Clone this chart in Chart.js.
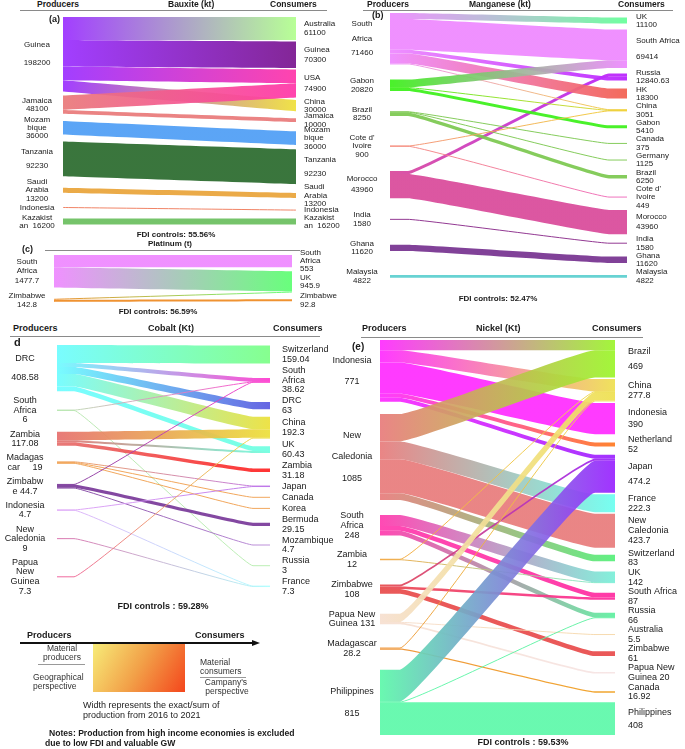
<!DOCTYPE html>
<html>
<head>
<meta charset="utf-8">
<script src="https://cdn.jsdelivr.net/npm/chart.js@4.4.0/dist/chart.umd.min.js"></script>
<style>
  body { margin: 0; width: 685px; height: 749px; position: relative; overflow: hidden; background: #fff;
         font-family: "Liberation Sans", Arial, Helvetica, sans-serif; color: #1a1a1a; }
  canvas { position: absolute; }
  .t { position: absolute; white-space: nowrap; }
  .rule { position: absolute; height: 0; border-top: 1px solid #8a8a8a; }
</style>
</head>
<body>
<script>
// ---------- (a) Bauxite (kt) ----------
const bauxiteProducers = ['Guinea', 'Jamaica', 'Mozambique', 'Tanzania', 'Saudi Arabia', 'Indonesia', 'Kazakistan'];
const bauxiteProducerLabels = ['Guinea\n198200', 'Jamaica\n48100', 'Mozam\nbique\n36000', 'Tanzania\n92230', 'Saudi\nArabia\n13200', 'Indonesia', 'Kazakist\nan  16200'];
const bauxiteConsumers = ['Australia', 'Guinea', 'USA', 'China', 'Jamaica', 'Mozambique', 'Tanzania', 'Saudi Arabia', 'Indonesia', 'Kazakistan'];
const bauxiteConsumerLabels = ['Australia\n61100', 'Guinea\n70300', 'USA\n74900', 'China\n30000', 'Jamaica\n10000', 'Mozam\nbique\n36000', 'Tanzania\n92230', 'Saudi\nArabia\n13200', 'Indonesia', 'Kazakist\nan  16200'];
const bauxiteFlowFrom = ['Guinea', 'Guinea', 'Guinea', 'Guinea', 'Jamaica', 'Jamaica', 'Mozambique', 'Tanzania', 'Saudi Arabia', 'Indonesia', 'Kazakistan'];
const bauxiteFlowTo = ['Australia', 'Guinea', 'USA', 'China', 'USA', 'Jamaica', 'Mozambique', 'Tanzania', 'Saudi Arabia', 'Indonesia', 'Kazakistan'];
const bauxiteFlowValues = [61100, 70300, 36800, 30000, 38100, 10000, 36000, 92230, 13200, 1500, 16200];

// ---------- (c) Platinum (t) ----------
const platinumProducers = ['South Africa', 'Zimbabwe'];
const platinumProducerLabels = ['South\nAfrica\n1477.7', 'Zimbabwe\n142.8'];
const platinumConsumers = ['South Africa', 'UK', 'Zimbabwe'];
const platinumConsumerLabels = ['South\nAfrica\n553', 'UK\n945.9', 'Zimbabwe\n92.8'];
const platinumFlowFrom = ['South Africa', 'South Africa', 'Zimbabwe', 'Zimbabwe'];
const platinumFlowTo = ['South Africa', 'UK', 'UK', 'Zimbabwe'];
const platinumFlowValues = [553, 924.7, 50, 92.8];

// ---------- (b) Manganese (kt) ----------
const manganeseProducers = ['South Africa', 'Gabon', 'Brazil', "Cote d'Ivoire", 'Morocco', 'India', 'Ghana', 'Malaysia'];
const manganeseProducerLabels = ['South\nAfrica\n71460', 'Gabon\n20820', 'Brazil\n8250', "Cote d'\nIvoire\n900", 'Morocco\n43960', 'India\n1580', 'Ghana\n11620', 'Malaysia\n4822'];
const manganeseConsumers = ['UK', 'South Africa', 'Russia', 'HK', 'China', 'Gabon', 'Canada', 'Germany', 'Brazil', "Cote d'Ivoire", 'Morocco', 'India', 'Ghana', 'Malaysia'];
const manganeseConsumerLabels = ['UK\n11100', 'South Africa\n69414', 'Russia\n12840.63', 'HK\n18300', 'China\n3051', 'Gabon\n5410', 'Canada\n375', 'Germany\n1125', 'Brazil\n6250', "Cote d'\nIvoire\n449", 'Morocco\n43960', 'India\n1580', 'Ghana\n11620', 'Malaysia\n4822'];
const manganeseFlowFrom = ['South Africa', 'South Africa', 'Morocco', 'South Africa', 'South Africa', 'South Africa', 'Gabon', 'Gabon', 'Gabon',
  'Brazil', 'Brazil', 'Brazil', "Cote d'Ivoire", "Cote d'Ivoire", 'Morocco', 'India', 'Ghana', 'Malaysia'];
const manganeseFlowTo = ['UK', 'South Africa', 'Russia', 'Russia', 'HK', 'China', 'South Africa', 'China', 'Gabon',
  'Canada', 'Germany', 'Brazil', 'China', "Cote d'Ivoire", 'Morocco', 'India', 'Ghana', 'Malaysia'];
const manganeseFlowValues = [11100, 55404, 5840, 7000, 18300, 1200, 14010, 1400, 5410,
  375, 1125, 6250, 451, 449, 43960, 1580, 11620, 4822];

// ---------- (d) Cobalt (Kt) ----------
const cobaltProducers = ['DRC', 'South Africa', 'Zambia', 'Madagascar', 'Zimbabwe', 'Indonesia', 'New Caledonia', 'Papua New Guinea'];
const cobaltProducerLabels = ['DRC\n408.58', 'South\nAfrica\n6', 'Zambia\n117.08', 'Madagas\ncar     19', 'Zimbabw\ne 44.7', 'Indonesia\n4.7', 'New\nCaledonia\n9', 'Papua\nNew\nGuinea\n7.3'];
const cobaltConsumers = ['Switzerland', 'South Africa', 'DRC', 'China', 'UK', 'Zambia', 'Japan', 'Canada', 'Korea', 'Bermuda', 'Mozambique', 'Russia', 'France'];
const cobaltConsumerLabels = ['Switzerland\n159.04', 'South\nAfrica\n38.62', 'DRC\n63', 'China\n192.3', 'UK\n60.43', 'Zambia\n31.18', 'Japan', 'Canada', 'Korea', 'Bermuda\n29.15', 'Mozambique\n4.7', 'Russia\n3', 'France\n7.3'];
const cobaltFlowFrom = ['DRC', 'DRC', 'DRC', 'DRC', 'DRC', 'South Africa', 'South Africa', 'Zambia', 'Zambia', 'Zambia',
  'Madagascar', 'Madagascar', 'Madagascar', 'Zimbabwe', 'Zimbabwe', 'Zimbabwe', 'Indonesia', 'Indonesia', 'New Caledonia', 'Papua New Guinea'];
const cobaltFlowTo = ['Switzerland', 'South Africa', 'DRC', 'China', 'UK', 'South Africa', 'Russia', 'China', 'UK', 'Zambia',
  'Japan', 'Canada', 'Korea', 'South Africa', 'Bermuda', 'Mozambique', 'Japan', 'France', 'France', 'China'];
const cobaltFlowValues = [159.04, 34.12, 63, 110.42, 42, 3, 3, 74.58, 18.43, 31.18,
  6, 7, 6, 1.5, 29.15, 4.7, 2.35, 2.35, 4.95, 7.3];

// ---------- (e) Nickel (Kt) ----------
const nickelProducers = ['Indonesia', 'New Caledonia', 'South Africa', 'Zambia', 'Zimbabwe', 'Papua New Guinea', 'Madagascar', 'Philippines'];
const nickelProducerLabels = ['Indonesia\n771', 'New\nCaledonia\n1085', 'South\nAfrica\n248', 'Zambia\n12', 'Zimbabwe\n108', 'Papua New\nGuinea 131', 'Madagascar\n28.2', 'Philippines\n815'];
const nickelConsumers = ['Brazil', 'China', 'Indonesia', 'Netherland', 'Japan', 'France', 'New Caledonia', 'Switzerland', 'UK', 'South Africa',
  'Russia', 'Australia', 'Zimbabwe', 'Papua New Guinea', 'Canada', 'Philippines'];
const nickelConsumerLabels = ['Brazil\n469', 'China\n277.8', 'Indonesia\n390', 'Netherland\n52', 'Japan\n474.2', 'France\n222.3', 'New\nCaledonia\n423.7',
  'Switzerland\n83', 'UK\n142', 'South Africa\n87', 'Russia\n66', 'Australia\n5.5', 'Zimbabwe\n61', 'Papua New\nGuinea 20', 'Canada\n16.92', 'Philippines\n408'];
const nickelFlowFrom = ['Indonesia', 'Indonesia', 'Indonesia', 'Indonesia', 'Indonesia', 'New Caledonia', 'New Caledonia', 'New Caledonia', 'New Caledonia',
  'South Africa', 'South Africa', 'South Africa', 'Zambia', 'Zambia', 'Zimbabwe', 'Zimbabwe', 'Zimbabwe',
  'Papua New Guinea', 'Papua New Guinea', 'Papua New Guinea', 'Madagascar', 'Madagascar', 'Philippines', 'Philippines', 'Philippines'];
const nickelFlowTo = ['Brazil', 'China', 'Indonesia', 'Netherland', 'Japan', 'Brazil', 'France', 'New Caledonia', 'Switzerland',
  'UK', 'South Africa', 'Russia', 'China', 'UK', 'Japan', 'South Africa', 'Zimbabwe',
  'China', 'Australia', 'Papua New Guinea', 'China', 'Canada', 'Japan', 'Russia', 'Philippines'];
const nickelFlowValues = [126.3, 153.22, 390, 52, 49.5, 342.7, 222.3, 423.7, 83,
  137.8, 57.7, 59, 7.8, 4.2, 24.7, 29.3, 61,
  105.5, 5.5, 20, 11.28, 16.92, 400, 7, 408];

// ---------- colours (styles) ----------
const bauxiteProducerColors = ['#9b30ff', '#e97a7a', '#4f9ef5', '#2b6b2e', '#e9a43a', '#ef7a5a', '#6bbf5f'];
const bauxiteConsumerColors = ['#b2ff8e', '#7a168f', '#ff36a8', '#efe03a', '#e97a7a', '#4f9ef5', '#2b6b2e', '#e9a43a', '#ef7a5a', '#6bbf5f'];
const platinumProducerColors = ['#ee88ff', '#ee8a22'];
const platinumConsumerColors = ['#ee88ff', '#5dff72', '#ee8a22'];
const manganeseProducerColors = ['#ee88ff', '#3cf01a', '#7cc850', '#f58a7a', '#d94a9a', '#8a2a8a', '#773390', '#5ccfcf'];
const manganeseConsumerColors = ['#66ff99', '#ee88ff', '#b922ff', '#f2604f', '#f0d030', '#3cf01a', '#7cc850', '#7cc850', '#7cc850',
  '#ee66bb', '#d94a9a', '#8a2a8a', '#773390', '#5ccfcf'];
const cobaltProducerColors = ['#6ffcff', '#b8e6b0', '#e6706e', '#f0a050', '#7a3a9a', '#e0a8f8', '#d86aa8', '#ee5a9a'];
const cobaltConsumerColors = ['#7dff86', '#ff3ccf', '#5a5ae0', '#ece03a', '#70ffe0', '#ff2424', '#bb70e8', '#f0a050', '#f0a050',
  '#7a3a9a', '#b98ad8', '#b8eeb0', '#b0ffff'];
const nickelProducerColors = ['#ff2cff', '#e87c7c', '#ff3cae', '#f3a43a', '#e84c4c', '#f6dfd0', '#ee9030', '#5ef8aa'];
const nickelConsumerColors = ['#9cf52c', '#eee050', '#ff2cff', '#ff7a20', '#9a24ff', '#6cfff0', '#e87c7c', '#55f07a', '#7aefd8',
  '#ff2ca0', '#5ef0a0', '#f6d8a8', '#e84c4c', '#f6e4e4', '#f0a020', '#5ef8aa'];

const FONT = '"Liberation Sans", Arial, Helvetica, sans-serif';

const panels = [
  { producers: bauxiteProducers, producerLabels: bauxiteProducerLabels, producerColors: bauxiteProducerColors,
    consumers: bauxiteConsumers, consumerLabels: bauxiteConsumerLabels, consumerColors: bauxiteConsumerColors,
    flowFrom: bauxiteFlowFrom, flowTo: bauxiteFlowTo, flowValues: bauxiteFlowValues,
    box: { left: 0, top: 12, width: 345, height: 222 }, pad: { left: 63, right: 49, top: 5, bottom: 6 },
    flat: 0, curve: 0, font: 8, lh: 8.2, need: 0.8, gap: 1.5, leftOff: 26, rightOff: 8 },
  { producers: platinumProducers, producerLabels: platinumProducerLabels, producerColors: platinumProducerColors,
    consumers: platinumConsumers, consumerLabels: platinumConsumerLabels, consumerColors: platinumConsumerColors,
    flowFrom: platinumFlowFrom, flowTo: platinumFlowTo, flowValues: platinumFlowValues,
    box: { left: 0, top: 250, width: 345, height: 58 }, pad: { left: 54, right: 53, top: 5, bottom: 4 },
    flat: 0, curve: 0, font: 8, lh: 8.2, need: 0.45, gap: 4, leftOff: 27, rightOff: 8 },
  { producers: manganeseProducers, producerLabels: manganeseProducerLabels, producerColors: manganeseProducerColors,
    consumers: manganeseConsumers, consumerLabels: manganeseConsumerLabels, consumerColors: manganeseConsumerColors,
    flowFrom: manganeseFlowFrom, flowTo: manganeseFlowTo, flowValues: manganeseFlowValues,
    box: { left: 345, top: 10, width: 340, height: 280 }, pad: { left: 45, right: 58, top: 3, bottom: 6 },
    flat: 18, curve: 12, font: 8, lh: 8.4, need: 0.9, gap: 1.5, leftOff: 28, rightOff: 9 },
  { producers: cobaltProducers, producerLabels: cobaltProducerLabels, producerColors: cobaltProducerColors,
    consumers: cobaltConsumers, consumerLabels: cobaltConsumerLabels, consumerColors: cobaltConsumerColors,
    flowFrom: cobaltFlowFrom, flowTo: cobaltFlowTo, flowValues: cobaltFlowValues,
    box: { left: 0, top: 340, width: 345, height: 262 }, pad: { left: 57, right: 75, top: 5, bottom: 6 },
    flat: 17, curve: 10, font: 9, lh: 9.6, need: 1.0, gap: 1.5, leftOff: 32, rightOff: 12 },
  { producers: nickelProducers, producerLabels: nickelProducerLabels, producerColors: nickelProducerColors,
    consumers: nickelConsumers, consumerLabels: nickelConsumerLabels, consumerColors: nickelConsumerColors,
    flowFrom: nickelFlowFrom, flowTo: nickelFlowTo, flowValues: nickelFlowValues,
    box: { left: 322, top: 336, width: 363, height: 404 }, pad: { left: 58, right: 70, top: 4, bottom: 5 },
    flat: 20, curve: 15, font: 9, lh: 9.8, need: 0.9, gap: 1.5, leftOff: 28, rightOff: 13 }
];

// node heights are proportional to value; the px-per-unit factor is solved so both columns fit
function buildLayout(cfg) {
  const H = cfg.box.height - cfg.pad.top - cfg.pad.bottom;
  const pIdx = {}, cIdx = {};
  cfg.producers.forEach((n, i) => pIdx[n] = i);
  cfg.consumers.forEach((n, i) => cIdx[n] = i);
  const flows = cfg.flowValues.map((v, i) => ({ s: pIdx[cfg.flowFrom[i]], t: cIdx[cfg.flowTo[i]], v: v }));
  const lv = cfg.producers.map(() => 0), rv = cfg.consumers.map(() => 0);
  flows.forEach(f => { lv[f.s] += f.v; rv[f.t] += f.v; });
  const needs = labels => labels.map(l => l.split('\n').length * cfg.lh * cfg.need);
  const ln = needs(cfg.producerLabels), rn = needs(cfg.consumerLabels);
  const total = (vals, nd, p) => vals.reduce((s, v, i) => s + Math.max(v * p, nd[i]), 0) + (vals.length - 1) * cfg.gap;
  const fit = p => Math.max(total(lv, ln, p), total(rv, rn, p));
  let lo = 0, hi = 1;
  for (let k = 0; k < 200; k++) {
    const mid = (lo + hi) / 2;
    if (fit(mid) > H) hi = mid; else lo = mid;
  }
  const p = lo || hi;
  const stack = (vals, nd) => {
    const slots = vals.map((v, i) => Math.max(v * p, nd[i]));
    const used = slots.reduce((a, b) => a + b, 0);
    const g = vals.length > 1 ? (H - used) / (vals.length - 1) : 0;
    let y = 0;
    return vals.map((v, i) => {
      const top = y + (slots[i] - v * p) / 2;
      y += slots[i] + g;
      return top / p;
    });
  };
  const lTop = stack(lv, ln), rTop = stack(rv, rn);
  const sOff = lTop.slice(), tOff = rTop.slice();
  flows.forEach(f => {
    f.sy = sOff[f.s]; sOff[f.s] += f.v;
    f.ty = tOff[f.t]; tOff[f.t] += f.v;
  });
  return { yMax: H / p, flows, lv, rv, lTop, rTop };
}

function makeSankeyPlugin(cfg, lay) {
  return {
    id: 'sankeyFlows',
    afterDatasetsDraw(chart) {
      const ctx = chart.ctx, xs = chart.scales.x, ys = chart.scales.y;
      const x0 = xs.getPixelForValue(0), x1 = xs.getPixelForValue(1);
      const xa = x0 + cfg.flat, xb = x1 - cfg.flat, c = cfg.curve;
      ctx.save();
      lay.flows.forEach(fl => {
        const sT = ys.getPixelForValue(fl.sy), sB = ys.getPixelForValue(fl.sy + fl.v);
        const tT = ys.getPixelForValue(fl.ty), tB = ys.getPixelForValue(fl.ty + fl.v);
        const grad = ctx.createLinearGradient(x0, 0, x1, 0);
        grad.addColorStop(0, cfg.producerColors[fl.s]);
        grad.addColorStop(1, cfg.consumerColors[fl.t]);
        ctx.globalAlpha = 0.93;
        if (sB - sT < 1.2) {
          const sm = (sT + sB) / 2, tm = (tT + tB) / 2;
          ctx.beginPath();
          ctx.moveTo(x0, sm); ctx.lineTo(xa, sm);
          ctx.bezierCurveTo(xa + c, sm, xb - c, tm, xb, tm);
          ctx.lineTo(x1, tm);
          ctx.strokeStyle = grad; ctx.lineWidth = 1;
          ctx.stroke();
        } else {
          ctx.beginPath();
          ctx.moveTo(x0, sT); ctx.lineTo(xa, sT);
          ctx.bezierCurveTo(xa + c, sT, xb - c, tT, xb, tT);
          ctx.lineTo(x1, tT); ctx.lineTo(x1, tB); ctx.lineTo(xb, tB);
          ctx.bezierCurveTo(xb - c, tB, xa + c, sB, xa, sB);
          ctx.lineTo(x0, sB);
          ctx.closePath();
          ctx.fillStyle = grad;
          ctx.fill();
        }
      });
      ctx.globalAlpha = 1;
      ctx.font = cfg.font + 'px ' + FONT;
      ctx.fillStyle = '#1a1a1a';
      ctx.textBaseline = 'middle';
      const labels = (texts, tops, vals, x, align) => {
        ctx.textAlign = align;
        texts.forEach((txt, i) => {
          const lines = txt.split('\n');
          const yt = ys.getPixelForValue(tops[i]), yb = ys.getPixelForValue(tops[i] + vals[i]);
          const mid = (yt + yb) / 2;
          const sp = Math.min(Math.max((yb - yt) / (lines.length + 0.5), cfg.lh), cfg.lh * 2.2);
          lines.forEach((l, k) => ctx.fillText(l, x, mid + (k - (lines.length - 1) / 2) * sp));
        });
      };
      labels(cfg.producerLabels, lay.lTop, lay.lv, x0 - cfg.leftOff, 'center');
      labels(cfg.consumerLabels, lay.rTop, lay.rv, x1 + cfg.rightOff, 'left');
      ctx.restore();
    }
  };
}

panels.forEach(cfg => {
  const lay = buildLayout(cfg);
  const cv = document.createElement('canvas');
  cv.width = cfg.box.width; cv.height = cfg.box.height;
  cv.style.left = cfg.box.left + 'px'; cv.style.top = cfg.box.top + 'px';
  cv.style.width = cfg.box.width + 'px'; cv.style.height = cfg.box.height + 'px';
  document.body.appendChild(cv);
  new Chart(cv, {
    type: 'scatter',
    data: { datasets: [] },
    options: {
      responsive: false,
      animation: false,
      layout: { padding: cfg.pad },
      plugins: { legend: { display: false }, tooltip: { enabled: false } },
      scales: {
        x: { type: 'linear', min: 0, max: 1, display: false },
        y: { type: 'linear', min: 0, max: lay.yMax, reverse: true, display: false }
      }
    },
    plugins: [makeSankeyPlugin(cfg, lay)]
  });
});

// ---------- static texts ----------
function addText(str, x, y, size, bold, align, color) {
  const d = document.createElement('div');
  d.className = 't';
  d.textContent = str;
  d.style.fontSize = size + 'px';
  d.style.lineHeight = size + 'px';
  d.style.left = x + 'px';
  d.style.top = (y - size / 2) + 'px';
  if (bold) d.style.fontWeight = 'bold';
  if (align === 'center') d.style.transform = 'translateX(-50%)';
  if (color) d.style.color = color;
  document.body.appendChild(d);
}
function addRule(x0, x1, y, color) {
  const d = document.createElement('div');
  d.className = 'rule';
  d.style.left = x0 + 'px'; d.style.width = (x1 - x0) + 'px'; d.style.top = y + 'px';
  if (color) d.style.borderTopColor = color;
  document.body.appendChild(d);
}

addText('Producers', 37, 4, 8.5, true); addText('Bauxite (kt)', 168, 4, 8.5, true); addText('Consumers', 270, 4, 8.5, true);
addRule(20, 327, 10);
addText('(a)', 49, 19, 9, true);
addText('FDI controls: 55.56%', 176, 235, 8, true, 'center');
addText('Platinum (t)', 170, 244, 8, true, 'center');
addText('(c)', 22, 249, 9, true);
addRule(45, 300, 250);
addText('FDI controls: 56.59%', 158, 312, 8, true, 'center');

addText('Producers', 367, 4, 8.5, true); addText('Manganese (kt)', 469, 4, 8.5, true); addText('Consumers', 618, 4, 8.5, true);
addRule(363, 673, 10);
addText('(b)', 372, 15, 9, true);
addText('FDI controls: 52.47%', 498, 299, 8, true, 'center');

addText('Producers', 13, 328, 9, true); addText('Cobalt (Kt)', 148, 328, 9, true); addText('Consumers', 273, 328, 9, true);
addRule(10, 320, 336);
addText('d', 14, 342, 11, true);
addText('FDI controls : 59.28%', 163, 606, 9, true, 'center');

addText('Producers', 362, 328, 9, true); addText('Nickel (Kt)', 476, 328, 9, true); addText('Consumers', 592, 328, 9, true);
addRule(361, 643, 337);
addText('(e)', 352, 347, 10, true);
addText('FDI controls : 59.53%', 523, 742, 9, true, 'center');

// ---------- explanatory key ----------
const grad = document.createElement('div');
grad.style.cssText = 'position:absolute;left:93px;top:644px;width:92px;height:48px;' +
  'background:linear-gradient(120deg,#f7ec78 0%,#f2a048 50%,#f4461c 100%);';
document.body.appendChild(grad);
const arrow = document.createElement('div');
arrow.style.cssText = 'position:absolute;left:20px;top:642px;width:233px;height:0;border-top:2px solid #111;';
document.body.appendChild(arrow);
const head = document.createElement('div');
head.style.cssText = 'position:absolute;left:252px;top:640px;width:0;height:0;border-top:3.5px solid transparent;' +
  'border-bottom:3.5px solid transparent;border-left:8px solid #111;';
document.body.appendChild(head);
addText('Producers', 27, 635, 9, true); addText('Consumers', 195, 635, 9, true);
addText('Material', 62, 648, 8.5, false, 'center', '#333'); addText('producers', 62, 657, 8.5, false, 'center', '#333');
addRule(38, 85, 664, '#999');
addText('Geographical', 33, 677, 8.5, false, null, '#333'); addText('perspective', 33, 686, 8.5, false, null, '#333');
addText('Material', 200, 662, 8.5, false, null, '#333'); addText('consumers', 200, 671, 8.5, false, null, '#333');
addRule(200, 246, 677, '#999');
addText("Campany's", 226, 682, 8.5, false, 'center', '#333'); addText('perspective', 227, 691, 8.5, false, 'center', '#333');
addText('Width represents the exact/sum of', 83, 705, 9, false, null, '#222');
addText('production from 2016 to 2021', 83, 715, 9, false, null, '#222');
addText('Notes: Production from high income economies is excluded', 49, 733, 8.6, true);
addText('due to low FDI and valuable GW', 45, 743, 8.6, true);
</script>
</body>
</html>
